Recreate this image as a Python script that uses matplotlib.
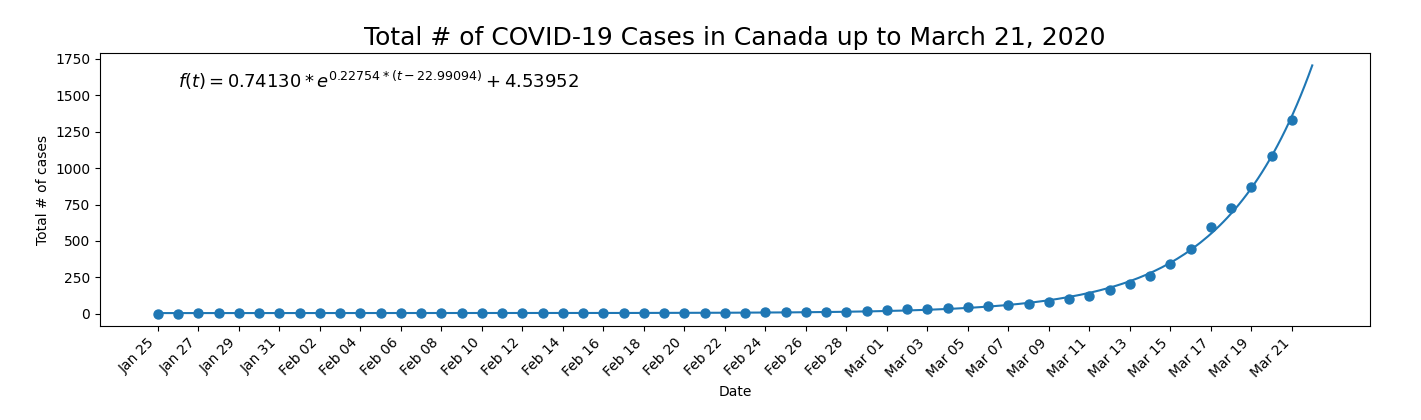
import numpy as np
import pandas as pd
import matplotlib
matplotlib.use('Agg')
import matplotlib.pyplot as plt
import matplotlib.dates as mdates

# data
start_date = '2020-01-25'
end_date = '2020-03-21'
cases = [1, 1, 2, 2, 2, 2, 4, 4, 4, 4, 4, 5, 5, 7, 7, 7, 7, 7, 7, 7,
         7, 7, 7, 7, 7, 7, 8, 8, 8, 8, 9, 11, 12, 13, 15, 19, 24, 30, 31,
         36, 49, 51, 57, 64, 78, 101, 119, 160, 203, 258, 341, 444, 595,
         727, 873, 1085, 1331]

# fitted model shown on the chart
a, b, t0, c = 0.74130, 0.22754, 22.99094, 4.53952
t_end = 57

dates = pd.date_range(start_date, end_date, freq='D')
x = mdates.date2num(dates)

t = np.linspace(0, t_end, 300)
fit = a * np.exp(b * (t - t0)) + c
x_fit = mdates.date2num(dates[0]) + t

fig = plt.figure(figsize=(14.21, 4.2), dpi=100)
ax = fig.add_axes([0.0704, 0.2238, 0.8937, 0.65])

ax.scatter(x, cases, s=42, color='C0', zorder=2)
ax.plot(x_fit, fit, color='C0', lw=1.5, zorder=3)

ax.set_xticks(x[::2])
ax.set_xticklabels(dates[::2].strftime('%b %d'), rotation=45, ha='right')

ax.set_title('Total # of COVID-19 Cases in Canada up to March 21, 2020', fontsize=18)
ax.set_xlabel('Date')
ax.set_ylabel('Total # of cases')

ax.text(x[1], 1550,
        r'$f(t) = 0.74130 * e^{0.22754 * (t - 22.99094)} + 4.53952$',
        fontsize=13)

fig.savefig('out.png', dpi=100)
